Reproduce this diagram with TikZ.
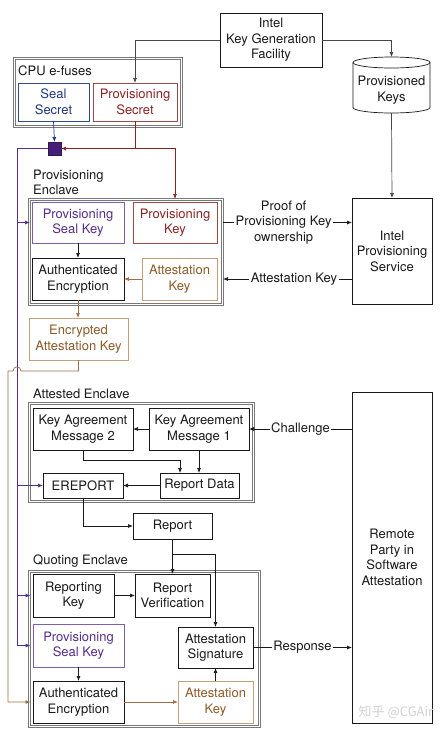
\documentclass[tikz,border=0pt]{standalone}
\usepackage{fontspec}
\setmainfont{TeX Gyre Heros}
\newfontfamily\cjkfont{Noto Sans CJK SC}
\usetikzlibrary{arrows.meta,calc}
\definecolor{ink}{RGB}{25,25,25}
\definecolor{gln}{RGB}{70,70,70}
\definecolor{frm}{RGB}{120,120,120}
\definecolor{sealblue}{RGB}{30,55,130}
\definecolor{sealbord}{RGB}{45,75,145}
\definecolor{provred}{RGB}{140,35,35}
\definecolor{provbord}{RGB}{165,70,70}
\definecolor{purp}{RGB}{85,45,140}
\definecolor{purpbord}{RGB}{125,95,175}
\definecolor{purpsq}{RGB}{70,30,120}
\definecolor{brn}{RGB}{140,90,40}
\definecolor{brnbord}{RGB}{195,160,120}
\definecolor{brnline}{RGB}{160,110,70}
\begin{document}
\begin{tikzpicture}[x=1pt,y=-1pt,
  font=\fontsize{13}{15.5}\selectfont,
  box/.style={draw=ink, line width=0.7pt, inner sep=0pt, outer sep=0pt, align=center, text=ink, fill=white},
  sz/.style 2 args={minimum width=#1pt, minimum height=#2pt},
  dframe/.style={draw=frm, line width=0.7pt, inner sep=0pt, outer sep=0pt},
  iframe/.style={draw=frm, line width=0.7pt},
  conn/.style={draw=ink, line width=0.7pt},
  gconn/.style={draw=gln, line width=0.7pt},
  redc/.style={draw=provred, line width=0.7pt},
  purc/.style={draw=purp, line width=0.7pt},
  brnc/.style={draw=brnline, line width=0.7pt},
  arr/.style={-{Latex[length=5pt,width=4pt]}},
  lbl/.style={fill=white, inner sep=1.5pt, align=center, text=ink},
  flbl/.style={anchor=west, inner sep=0pt, align=left, text=ink}]
\useasboundingbox[fill=white] (0,0) rectangle (447,732);

% frames (double gray borders)
\node[dframe, sz={169}{70}] (cpu) at (97.5,92) {};
\node[dframe, sz={195}{107}] (pe) at (125.5,251.5) {};
\node[dframe, sz={226}{100}] (att) at (141,452) {};
\node[dframe, sz={232}{157}] (qe) at (144,648.5) {};
\foreach \f in {cpu,pe,att,qe}{
  \draw[iframe] ([shift={(1.9pt,-1.9pt)}]\f.north west) rectangle ([shift={(-1.9pt,1.9pt)}]\f.south east);
}

% frame labels
\node[flbl] (cpulbl) at (18,71) {CPU e-fuses};
\node[flbl] (pelbl) at (33,182.5) {Provisioning\\Enclave};
\node[flbl] (attlbl) at (33,394) {Attested Enclave};
\node[flbl] (qelbl) at (33,561) {Quoting Enclave};

% top
\node[box, sz={102}{54}] (kgf) at (271,40) {Intel\\Key Generation\\Facility};
\node[box, sz={71}{38}, draw=sealbord, text=sealblue] (ss) at (53.5,102) {Seal\\Secret};
\node[box, sz={84}{38}, draw=provbord, text=provred] (ps) at (135,102) {Provisioning\\Secret};
\node[inner sep=0pt, outer sep=0pt, sz={77}{56}] (pkeys) at (391.5,85) {};
\draw[draw=ink, line width=0.7pt, fill=white] (353,62.5) -- (353,107.5)
  arc[start angle=180, end angle=360, x radius=38.5pt, y radius=5.5pt] -- (430,62.5);
\draw[draw=ink, line width=0.7pt, fill=white] (391.5,62.5) ellipse [x radius=38.5pt, y radius=5.5pt];
\node[align=center, text=ink, inner sep=0pt] (pkeyst) at (391.5,90) {Provisioned\\Keys};
\node[draw=purpsq!70!black, fill=purpsq, line width=0.5pt, inner sep=0pt, outer sep=0pt, sz={13}{13}] (sq) at (54.5,148.5) {};

% provisioning enclave
\node[box, sz={92}{41}, draw=purpbord, text=purp] (psk1) at (78,222.5) {Provisioning\\Seal Key};
\node[box, sz={84}{41}, draw=provbord, text=provred] (pk) at (175,222.5) {Provisioning\\Key};
\node[box, sz={92}{42}] (ae1) at (78,279) {Authenticated\\Encryption};
\node[box, sz={75}{42}, draw=brnbord, text=brn] (ak1) at (179.5,279) {Attestation\\Key};
\node[box, sz={99}{42}, draw=brnbord, text=brn] (eak) at (78.5,339) {Encrypted\\Attestation Key};
\node[box, sz={80}{106}] (ips) at (392,251) {Intel\\Provisioning\\Service};

% attested enclave
\node[box, sz={100}{42}] (kam2) at (83,429) {Key Agreement\\Message 2};
\node[box, sz={100}{42}] (kam1) at (199,429) {Key Agreement\\Message 1};
\node[box, sz={80}{25}] (erep) at (83,485.5) {EREPORT};
\node[box, sz={79}{25}] (rd) at (199.5,485.5) {Report Data};
\node[box, sz={79}{26}] (rep) at (172.5,526) {Report};
\node[box, sz={80}{331}] (remote) at (392,557.5) {Remote\\Party in\\Software\\Attestation};

% quoting enclave
\node[box, sz={81}{43}] (rk) at (73.5,595.5) {Reporting\\Key};
\node[box, sz={75}{43}] (rv) at (172.5,595.5) {Report\\Verification};
\node[box, sz={91}{43}, draw=purpbord, text=purp] (psk2) at (78.5,645.5) {Provisioning\\Seal Key};
\node[box, sz={75}{41}] (as) at (215.5,647.5) {Attestation\\Signature};
\node[box, sz={91}{42}] (ae2) at (78.5,702) {Authenticated\\Encryption};
\node[box, sz={75}{42}, draw=brnbord, text=brn] (ak2) at (215.5,702) {Attestation\\Key};

% watermark
\node[text=gray!35, font=\cjkfont\fontsize{13}{15}\selectfont, inner sep=0pt] (wm) at (396,712) {知乎 @CGAir};

% connectors: key generation
\draw[gconn,arr] (kgf.west) -| (ps.north);
\draw[gconn,arr] (kgf.east) -| (pkeys.north);
\draw[gconn,arr] (pkeys.south) -- (ips.north);

% e-fuses
\draw[draw=sealblue, line width=0.7pt, arr] (ss.south) -- (sq.north);
\coordinate (rj) at (ps.south |- sq.east);
\draw[redc] (ps.south) -- (rj);
\draw[redc,arr] (rj) -- (sq.east);
\draw[redc,arr,shorten >=3pt] (rj) -| (pk.north);

% purple trunk
\coordinate (pv1) at (17,148.5);
\coordinate (pv2) at (17,645.5);
\draw[purc] (sq.west) -- (pv1) -- (pv2);
\draw[purc,arr,shorten >=2pt] (pv1 |- psk1.west) -- (psk1.west);
\draw[purc,arr] (pv1 |- erep.west) -- (erep.west);
\draw[purc,arr,shorten >=2.5pt] (pv1 |- rk.west) -- (rk.west);
\draw[purc,arr,shorten >=2.5pt] (pv1 |- psk2.west) -- (psk2.west);

% provisioning enclave inner
\draw[conn,arr] (psk1.south) -- (ae1.north);
\draw[brnc,arr] (ak1.west) -- (ae1.east);
\draw[brnc,arr] (ae1.south) -- (ae1.south |- eak.north);
\draw[conn,arr] (pe.east |- pk.east) -- node[lbl, pos=0.47] (prooflbl) {Proof of\\Provisioning Key\\ownership} (ips.west |- pk.east);
\draw[conn,arr] (ips.west |- ak1.east) -- node[lbl, pos=0.45] (aklbl) {Attestation Key} (pe.east |- ak1.east);

% brown long path with hop
\draw[brnc,arr,shorten >=2.5pt] (eak.south) -- (78.5,371) -- (21,371)
  .. controls (21,365.5) and (13,365.5) .. (13,371) -- (8,371) -- (8,702) -- (ae2.west);

% attested enclave inner
\draw[conn,arr] (kam1.west) -- (kam2.east);
\coordinate (kj) at (180,460);
\draw[conn,arr] (kam2.south) |- (kj) -- (kj |- rd.north);
\draw[conn,arr] (kam1.south) -- (kam1.south |- rd.north);
\draw[conn,arr] (rd.west) -- (erep.east);
\draw[conn,arr] (erep.south) |- (rep.west);
\draw[conn,arr] (remote.west |- kam1.east) -- node[lbl, pos=0.5] (chlbl) {Challenge} (kam1.east);

% report to quoting enclave
\draw[conn,arr] (rep.south) -- (rv.north);
\coordinate (rb) at (172.5,554);
\draw[conn,arr] (rb) -| (as.north);

% quoting enclave inner
\draw[conn,arr] (rk.east) -- (rv.west);
\draw[conn,arr] (psk2.south) -- (ae2.north);
\draw[brnc,arr] (ae2.east) -- (ak2.west);
\draw[conn,arr] (ak2.north) -- (as.south);
\draw[conn,arr] (as.east) -- node[lbl, pos=0.5] (resplbl) {Response} (remote.west |- as.east);
\end{tikzpicture}
\end{document}
